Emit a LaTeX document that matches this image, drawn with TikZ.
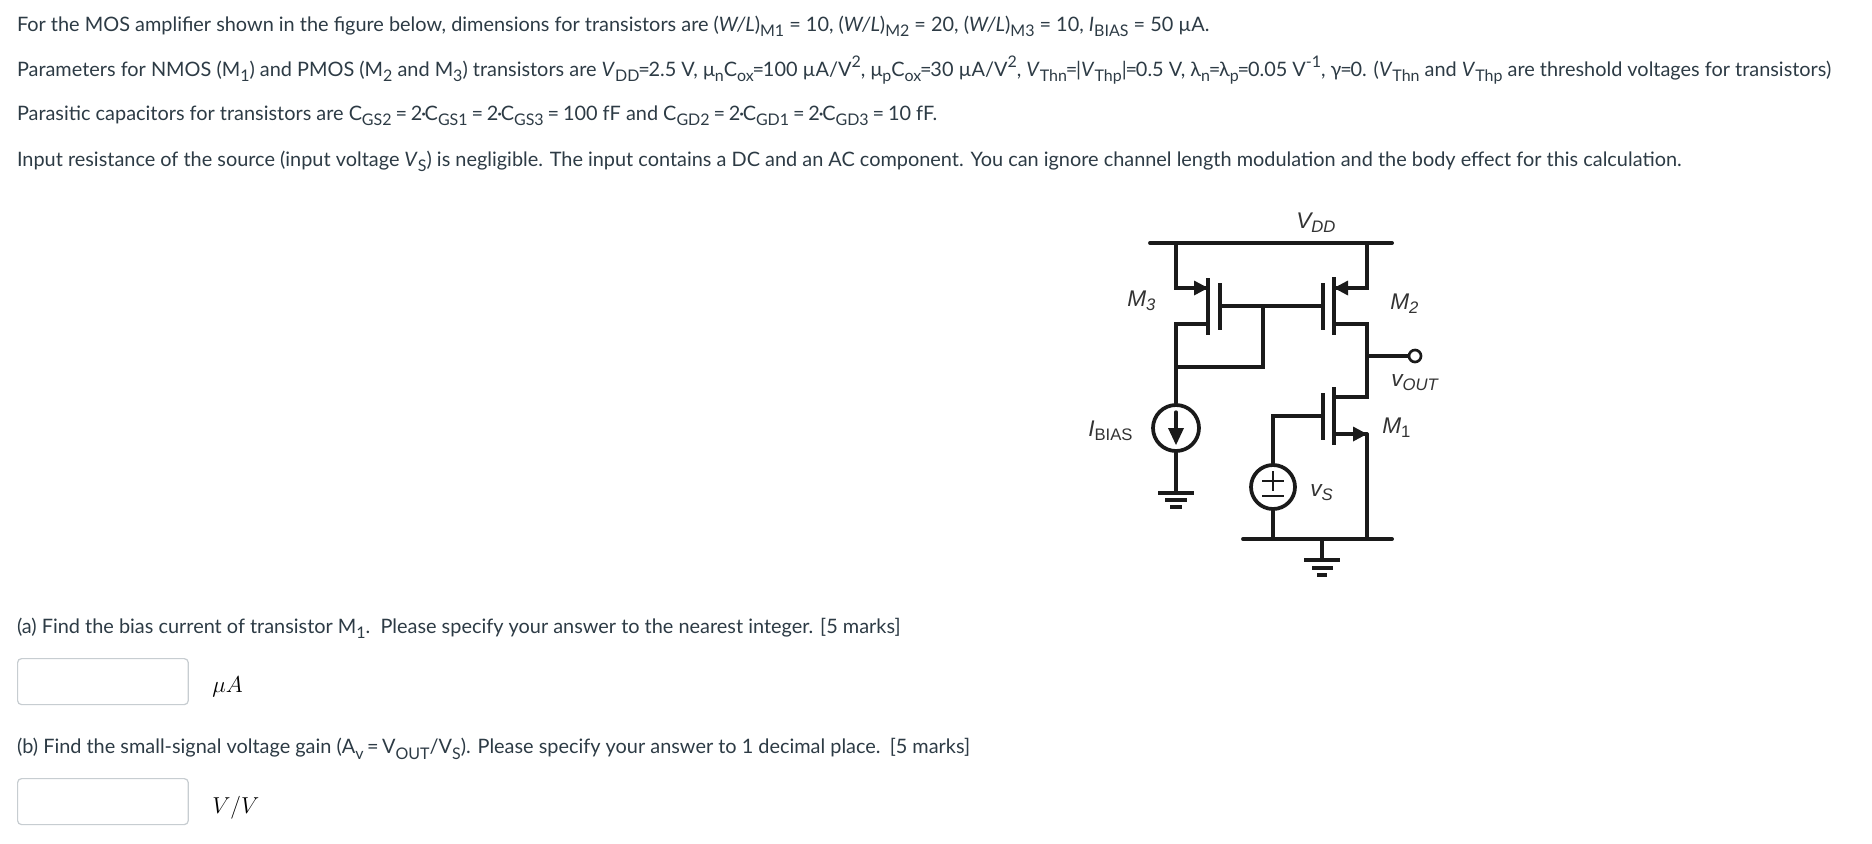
\documentclass[tikz,border=0pt]{standalone}
\usepackage{fontspec}
\setmainfont{Lato}
\newfontfamily\cktfont{Liberation Sans}
\usetikzlibrary{arrows.meta}
\definecolor{txt}{HTML}{2D3B45}
\definecolor{ckt}{HTML}{1A1A1A}
\definecolor{lab}{HTML}{333333}
\definecolor{boxline}{HTML}{C7CDD1}
\newcommand{\tsb}[1]{\raisebox{-0.28em}{\fontsize{12}{12}\selectfont #1}}
\newcommand{\tsp}[1]{\raisebox{0.42em}{\fontsize{12}{12}\selectfont #1}}
\newcommand{\csb}[1]{\raisebox{-0.22em}{\fontsize{12.5}{12.5}\selectfont #1}}
\newcommand{\eqk}{\kern-0.9pt=\kern-0.9pt}
\newcommand{\dotk}{\kern-1.1pt·\kern-1.1pt}
\tikzset{
 x=0.75pt,y=-0.75pt,
 para/.style={anchor=base west,inner sep=0pt,outer sep=0pt,text=txt,font=\fontsize{14.92}{17}\selectfont},
 unit/.style={anchor=base west,inner sep=0pt,text=black,font=\fontsize{16}{18}\selectfont},
 ansbox/.style={draw=boxline,line width=0.9pt,rounded corners=3pt,fill=white,inner sep=0pt,minimum width=128pt,minimum height=34.5pt,anchor=north west},
 wire/.style={draw=ckt,line width=2.5pt,line cap=round,line join=miter},
 rail/.style={wire,line width=2.9pt},
 gatebar/.style={draw=ckt,line width=3pt},
 srcc/.style={circle,draw=ckt,line width=2.8pt,fill=white,inner sep=0pt,minimum size=34.5pt},
 term/.style={circle,draw=ckt,line width=2pt,fill=white,inner sep=0pt,minimum size=9pt},
 clab/.style={anchor=base west,inner sep=0pt,text=lab,font=\cktfont\itshape\fontsize{17}{20}\selectfont},
}
\begin{document}
\begin{tikzpicture}
\useasboundingbox (0,0) rectangle (1872,843);
\fill[white] (0,0) rectangle (1872,843);
% text
\node[para] (l1) at (17,31) {For the MOS amplifier shown in the figure below, dimensions for transistors are (\textit{W/L})\tsb{M1} = 10, (\textit{W/L})\tsb{M2} = 20, (\textit{W/L})\tsb{M3} = 10, \textit{I}\tsb{BIAS} = 50 µA.};
\node[para] (l2) at (17,76) {Parameters for NMOS (M\tsb{1}) and PMOS (M\tsb{2} and M\tsb{3}) transistors are \textit{V}\tsb{DD}\eqk 2.5 V, μ\tsb{n}C\tsb{ox}\eqk 100 µA/V\tsp{2}, μ\tsb{p}C\tsb{ox}\eqk 30 µA/V\tsp{2}, \textit{V}\tsb{Thn}\eqk|\textit{V}\tsb{Thp}|\eqk 0.5 V, λ\tsb{n}\eqk λ\tsb{p}\eqk 0.05 V\tsp{-1}, γ\eqk 0. (\textit{V}\tsb{Thn} and \textit{V}\tsb{Thp} are threshold voltages for transistors)};
\node[para] (l3) at (17,120) {Parasitic capacitors for transistors are C\tsb{GS2} \eqk{} 2\dotk C\tsb{GS1} \eqk{} 2\dotk C\tsb{GS3} \eqk{} 100 fF and C\tsb{GD2} \eqk{} 2\dotk C\tsb{GD1} \eqk{} 2\dotk C\tsb{GD3} \eqk{} 10 fF.};
\node[para] (l4) at (17,166) {Input resistance of the source (input voltage \textit{V}\tsb{S}) is negligible. The input contains a DC and an AC component. You can ignore channel length modulation and the body effect for this calculation.};
\node[para] (qa) at (17,633) {(a) Find the bias current of transistor M\tsb{1}.\ \ Please specify your answer to the nearest integer. [5 marks]};
\node[para] (qb) at (17,753.5) {(b) Find the small-signal voltage gain (A\tsb{v} \kern-1.2pt=\kern-1.2pt{} V\tsb{OUT}/V\tsb{S}). Please specify your answer to 1 decimal place.\kern3pt\ [5 marks]};
\node[ansbox] (boxa) at (17,658) {};
\node[ansbox] (boxb) at (17,778) {};
\node[unit] (ua) at (212,692) {$\mu A$};
\node[unit] (ub) at (212,813.5) {$V/V$};
% junctions
\coordinate (railL) at (1150,243); \coordinate (railR) at (1392,243);
\coordinate (s3t) at (1176,243); \coordinate (s3) at (1176,288); \coordinate (ch3s) at (1208,288);
\coordinate (ch3t) at (1208,278); \coordinate (ch3b) at (1208,335);
\coordinate (g3t) at (1220,283); \coordinate (g3b) at (1220,330); \coordinate (g3) at (1220,306);
\coordinate (ch3d) at (1208,324); \coordinate (d3) at (1176,324);
\coordinate (gj) at (1263,306); \coordinate (gj2) at (1263,367); \coordinate (dj) at (1176,367);
\coordinate (s2t) at (1367,243); \coordinate (s2) at (1367,288); \coordinate (ch2s) at (1334,288);
\coordinate (ch2t) at (1334,277); \coordinate (ch2b) at (1334,335);
\coordinate (g2t) at (1323,283); \coordinate (g2b) at (1323,330); \coordinate (g2) at (1323,306);
\coordinate (ch2d) at (1334,324); \coordinate (d2) at (1367,324);
\coordinate (outj) at (1367,356);
\coordinate (ch1t) at (1334,387); \coordinate (ch1b) at (1334,445);
\coordinate (g1t) at (1323,393); \coordinate (g1b) at (1323,440); \coordinate (g1) at (1323,416);
\coordinate (ch1d) at (1334,397); \coordinate (d1) at (1367,397);
\coordinate (ch1s) at (1334,434); \coordinate (s1) at (1367,434);
\coordinate (vg) at (1273,416); \coordinate (gndL) at (1243,539); \coordinate (gndR) at (1392,539);
\coordinate (vgnd) at (1273,539); \coordinate (s1g) at (1367,539);
\coordinate (gstub) at (1322,539); \coordinate (g2a) at (1322,560);
\coordinate (g2aL) at (1304,560); \coordinate (g2aR) at (1340,560);
\coordinate (g2bL) at (1312,568); \coordinate (g2bR) at (1333,568);
\coordinate (g2cL) at (1317,575); \coordinate (g2cR) at (1327,575);
\coordinate (g1a) at (1176,493);
\coordinate (g1aL) at (1158,493); \coordinate (g1aR) at (1194,493);
\coordinate (g1bL) at (1165,500); \coordinate (g1bR) at (1187,500);
\coordinate (g1cL) at (1170,507); \coordinate (g1cR) at (1182,507);
% sources and terminal
\node[srcc] (ib) at (1176,428) {};
\node[srcc,minimum size=33pt] (vs) at (1273,487) {};
\node[term] (vout) at (1415,356) {};
% rails
\draw[rail] (railL) -- (railR);
\draw[rail] (gndL) -- (gndR);
% M3
\draw[wire] (s3t) -- (s3) -- (ch3s);
\path[fill=ckt] (ch3s) -- ++(-14,-7.5) -- ++(0,15) -- cycle;
\draw[gatebar] (ch3t) -- (ch3b);
\draw[gatebar] (g3t) -- (g3b);
\draw[wire] (ch3d) -- (d3) -- (dj);
\draw[wire] (g3) -- (gj) -- (g2);
\draw[wire] (gj) -- (gj2) -- (dj);
\draw[wire] (dj) -- (ib);
% M2
\draw[wire] (s2t) -- (s2) -- (ch2s);
\path[fill=ckt] (ch2s) -- ++(14,-7.5) -- ++(0,15) -- cycle;
\draw[gatebar] (ch2t) -- (ch2b);
\draw[gatebar] (g2t) -- (g2b);
\draw[wire] (ch2d) -- (d2) -- (d1) -- (ch1d);
\draw[wire] (outj) -- (vout);
% M1
\draw[gatebar] (ch1t) -- (ch1b);
\draw[gatebar] (g1t) -- (g1b);
\draw[wire] (ch1s) -- (s1);
\path[fill=ckt] (s1) -- ++(-14,-7.5) -- ++(0,15) -- cycle;
\draw[wire] (s1) -- (s1g);
\draw[wire] (g1) -- (vg) -- (vs);
\draw[wire] (vs) -- (vgnd);
% current-source arrow
\coordinate (iat) at (1176,412); \coordinate (iab) at (1176,445);
\draw[wire] (iat) -- (1176,432);
\path[fill=ckt] (iab) -- ++(-8,-17) -- ++(16,0) -- cycle;
% plus / minus
\coordinate (pL) at (1262,481); \coordinate (pR) at (1284,481);
\coordinate (pT) at (1273,471); \coordinate (pB) at (1273,491);
\coordinate (mL) at (1262,496); \coordinate (mR) at (1284,496);
\draw[wire,line width=1.9pt,line cap=butt] (pL) -- (pR);
\draw[wire,line width=1.9pt,line cap=butt] (pT) -- (pB);
\draw[wire,line width=1.9pt,line cap=butt] (mL) -- (mR);
% grounds
\draw[wire] (ib) -- (g1a);
\draw[wire,line cap=butt] (g1aL) -- (g1aR);
\draw[wire,line width=2.4pt,line cap=butt] (g1bL) -- (g1bR);
\draw[wire,line width=2.4pt,line cap=butt] (g1cL) -- (g1cR);
\draw[wire] (gstub) -- (g2a);
\draw[wire,line cap=butt] (g2aL) -- (g2aR);
\draw[wire,line width=2.4pt,line cap=butt] (g2bL) -- (g2bR);
\draw[wire,line width=2.4pt,line cap=butt] (g2cL) -- (g2cR);
% labels
\node[clab] (lvdd) at (1296,228) {V\csb{DD}};
\node[clab] (lm3) at (1127,306) {M\csb{3}};
\node[clab] (lm2) at (1390,309) {M\csb{2}};
\node[clab] (lvo) at (1391,386) {v\csb{OUT}};
\node[clab] (lm1) at (1382,433) {M\csb{\upshape 1}};
\node[clab] (lib) at (1088,436) {I\csb{\upshape BIAS}};
\node[clab] (lvs) at (1310,496) {v\csb{S}};
\end{tikzpicture}
\end{document}
